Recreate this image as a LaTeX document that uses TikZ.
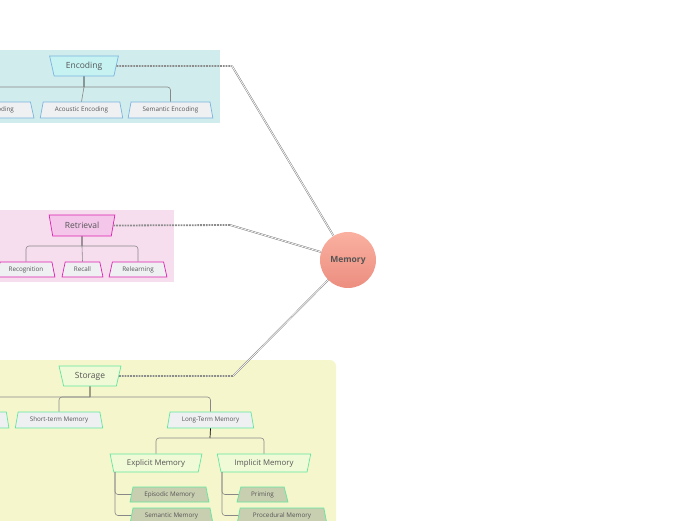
\documentclass[tikz,border=0pt]{standalone}
\usepackage{fontspec}
\setmainfont{Open Sans}
\usetikzlibrary{shapes.geometric}
\definecolor{encband}{HTML}{D0ECEC}
\definecolor{retband}{HTML}{F7DEEF}
\definecolor{stoband}{HTML}{F5F6CC}
\definecolor{encb}{HTML}{7AB4E0}
\definecolor{encf}{HTML}{C6F2F2}
\definecolor{retb}{HTML}{E020B0}
\definecolor{retf}{HTML}{F4C6EA}
\definecolor{stob}{HTML}{60E8A0}
\definecolor{stof}{HTML}{F0FAD6}
\definecolor{leaff}{HTML}{C8CEB0}
\definecolor{chf}{HTML}{EEF0F2}
\definecolor{txt}{HTML}{555555}
\definecolor{lnk}{HTML}{888888}
\definecolor{memt}{HTML}{FAB0A0}
\definecolor{memb}{HTML}{EC8E80}
\tikzset{
 tzb/.style={trapezium, trapezium stretches=true, trapezium left angle=72, trapezium right angle=72, inner sep=0pt, text=txt, draw, line width=0.7pt},
 tz/.style={tzb, shape border rotate=180, font=\fontsize{8.5}{9}\selectfont},
 inv/.style={tzb, font=\fontsize{6.3}{7}\selectfont},
 br/.style={draw=lnk, line width=0.6pt, rounded corners=3pt},
 dl/.style={draw=gray!90, line width=1.8pt, densely dotted},
 dg/.style={draw=gray, double=white, line width=0.5pt, double distance=0.7pt},
}
\begin{document}
\begin{tikzpicture}[x=1pt,y=-1pt]
\useasboundingbox (0,0) rectangle (696,520);
\fill[encband] (0,50) rectangle (220,123);
\fill[retband] (0,210) rectangle (174,282);
\fill[stoband, rounded corners=6pt] (-10,360) -- (336,360) -- (336,530) -- (-10,530) -- cycle;
% Memory
\node[circle, minimum size=56pt, inner sep=0pt, top color=memt, bottom color=memb, text=txt, font=\bfseries\fontsize{8.5}{9}\selectfont] (mem) at (348,260) {Memory};
% Encoding
\node[tz, draw=encb, fill=encf, minimum width=69pt, minimum height=20pt] (enc) at (84,66) {Encoding};
\node[inv, draw=encb, fill=chf, minimum width=86pt, minimum height=16pt] (e1) at (-9,110) {Visual Encoding};
\node[inv, draw=encb, fill=chf, minimum width=83pt, minimum height=16pt] (e2) at (81.5,110) {Acoustic Encoding};
\node[inv, draw=encb, fill=chf, minimum width=85pt, minimum height=16pt] (e3) at (170.5,110) {Semantic Encoding};
\draw[black, line width=0.7pt] (enc.south) -- (84,87);
\draw[br] (e1.north) |- (84,87) -| (e3.north);
\draw[br] (84,87) -- (e2.north);
% Retrieval
\node[tz, draw=retb, fill=retf, minimum width=66pt, minimum height=21pt] (ret) at (82,225.5) {Retrieval};
\node[inv, draw=retb, fill=chf, minimum width=58pt, minimum height=15pt] (r1) at (26,269.5) {Recognition};
\node[inv, draw=retb, fill=chf, minimum width=41pt, minimum height=15pt] (r2) at (82.5,269.5) {Recall};
\node[inv, draw=retb, fill=chf, minimum width=58pt, minimum height=15pt] (r3) at (138,269.5) {Relearning};
\draw[black, line width=0.7pt] (ret.south) -- (82,246);
\draw[br] (r1.north) |- (82,246) -| (r3.north);
\draw[br] (82,246) -- (r2.north);
% Storage
\node[tz, draw=stob, fill=stof, minimum width=62pt, minimum height=20pt] (sto) at (90,376) {Storage};
\node[inv, draw=stob, fill=chf, minimum width=70pt, minimum height=16pt] (s0) at (-26,420) {Sensory Memory};
\node[inv, draw=stob, fill=chf, minimum width=88pt, minimum height=16pt] (s1) at (59,420) {Short-term Memory};
\node[inv, draw=stob, fill=chf, minimum width=87pt, minimum height=16pt] (s2) at (210.5,420) {Long-Term Memory};
\draw[black, line width=0.7pt] (sto.south) -- (90,397);
\draw[br] (s0.north) |- (90,397) -| (s2.north);
\draw[br] (90,397) -| (s1.north);
\node[tz, font=\fontsize{7.8}{8}\selectfont, draw=stob, fill=stof, minimum width=92pt, minimum height=18pt] (ex) at (156,463) {Explicit Memory};
\node[tz, font=\fontsize{7.8}{8}\selectfont, draw=stob, fill=stof, minimum width=94pt, minimum height=18pt] (im) at (264,463) {Implicit Memory};
\draw[black, line width=0.7pt] (s2.south) -- (210,438);
\draw[br] (ex.north) |- (210,438) -| (im.north);
\node[inv, draw=stob, fill=leaff, minimum width=79pt, minimum height=15pt] (x1) at (169.5,494.5) {Episodic Memory};
\node[inv, draw=stob, fill=leaff, minimum width=83pt, minimum height=15pt] (x2) at (171.5,515.5) {Semantic Memory};
\node[inv, draw=stob, fill=leaff, minimum width=51pt, minimum height=15pt] (i1) at (262.5,494.5) {Priming};
\node[inv, draw=stob, fill=leaff, minimum width=90pt, minimum height=15pt] (i2) at (282,515.5) {Procedural Memory};
\coordinate (xr) at (115,472); \coordinate (ir) at (222,472);
\draw[br] (xr) |- (x1.west);
\draw[br] (xr) |- (x2.west);
\draw[br] (ir) |- (i1.west);
\draw[br] (ir) |- (i2.west);
% links
\coordinate (c1) at (232,66); \coordinate (c2) at (230,225); \coordinate (c3) at (233,376);
\draw[dl] (enc.east) -- (c1);
\draw[dl] (ret.east) -- (c2);
\draw[dl] (sto.east) -- (c3);
\draw[dg] (c1) -- (mem);
\draw[dg] (c2) -- (mem);
\draw[dg] (c3) -- (mem);
\end{tikzpicture}
\end{document}
